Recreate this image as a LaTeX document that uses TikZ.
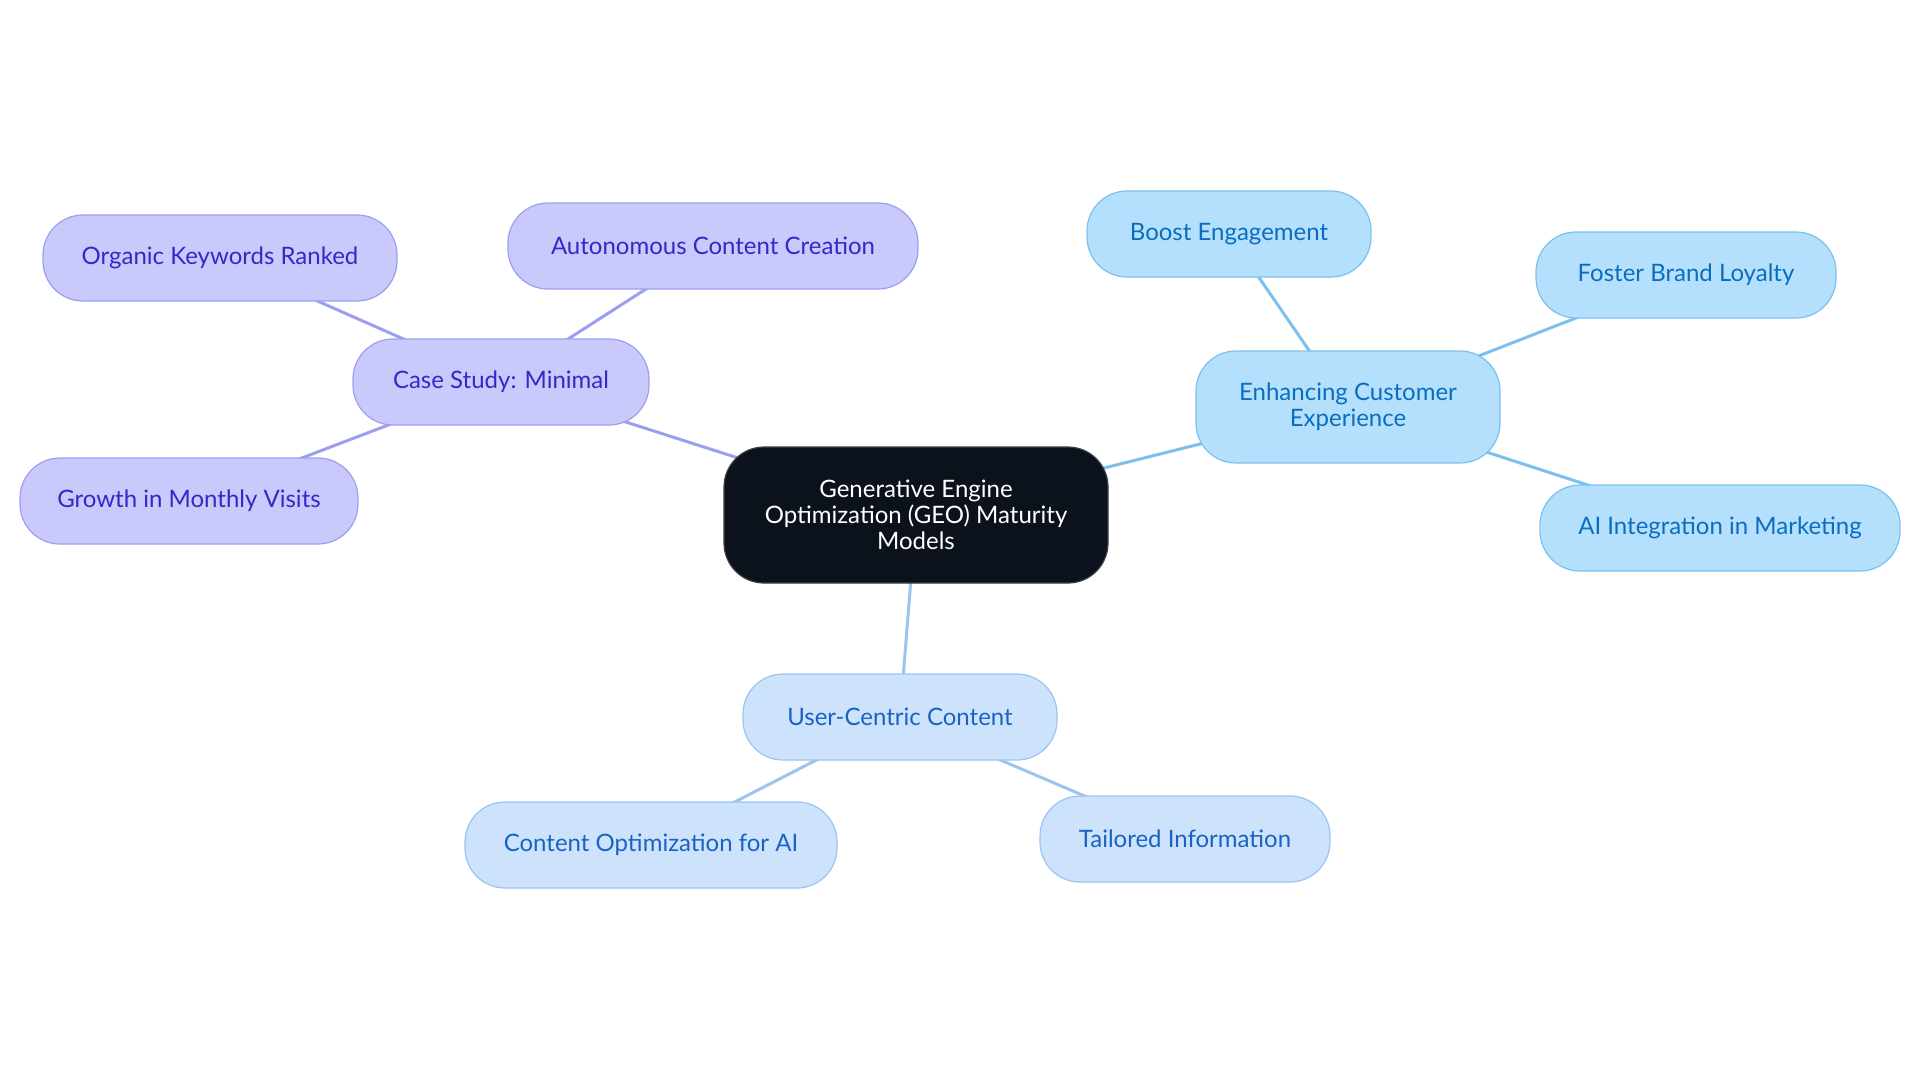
\documentclass[tikz,border=0pt]{standalone}
\usepackage{fontspec}
\setmainfont{Lato}
\usetikzlibrary{backgrounds}
\definecolor{rootfill}{HTML}{0C121B}
\definecolor{rootline}{HTML}{3A4048}
\definecolor{purpfill}{HTML}{C9CAFB}
\definecolor{purpline}{HTML}{9C9FEF}
\definecolor{purptext}{HTML}{3328C8}
\definecolor{skyfill}{HTML}{B4E0FD}
\definecolor{skyline}{HTML}{7CC0EE}
\definecolor{skytext}{HTML}{0A6DBE}
\definecolor{palefill}{HTML}{CDE3FB}
\definecolor{paleline}{HTML}{9BC4EF}
\definecolor{paletext}{HTML}{1A62C4}
\begin{document}
\begin{tikzpicture}[x=0.5pt, y=-0.5pt,
    box/.style={draw, rectangle, rounded corners=20pt, minimum height=43pt,
                text centered, align=center, line width=0.6pt,
                font=\fontsize{12}{13}\selectfont},
    root/.style={box, fill=rootfill, draw=rootline, text=white,
                 minimum width=192pt, minimum height=68pt},
    purp/.style={box, fill=purpfill, draw=purpline, text=purptext},
    sky/.style={box, fill=skyfill, draw=skyline, text=skytext},
    pale/.style={box, fill=palefill, draw=paleline, text=paletext},
    link/.style={line width=1.5pt}]
    \useasboundingbox (0,0) rectangle (1920,1083);
    \node[root] (geo)  at (916, 515) {Generative Engine\\Optimization (GEO) Maturity\\Models};
    % case study branch
    \node[purp, minimum width=148pt] (case)   at (501, 382) {Case Study: Minimal};
    \node[purp, minimum width=177pt] (organic) at (220, 258) {Organic Keywords Ranked};
    \node[purp, minimum width=205pt] (auto)   at (713, 246) {Autonomous Content Creation};
    \node[purp, minimum width=169pt] (growth) at (189, 501) {Growth in Monthly Visits};
    % customer experience branch
    \node[sky, minimum width=152pt, minimum height=56pt] (cx) at (1348, 407) {Enhancing Customer\\Experience};
    \node[sky, minimum width=142pt] (boost)   at (1229, 234) {Boost Engagement};
    \node[sky, minimum width=150pt] (loyalty) at (1686, 275) {Foster Brand Loyalty};
    \node[sky, minimum width=180pt] (aimkt)   at (1720, 528) {AI Integration in Marketing};
    % user-centric branch
    \node[pale, minimum width=157pt] (user)     at (900, 717) {User-Centric Content};
    \node[pale, minimum width=186pt] (optim)    at (651, 845) {Content Optimization for AI};
    \node[pale, minimum width=145pt] (tailored) at (1185, 839) {Tailored Information};
    \begin{scope}[on background layer]
        \foreach \a/\b in {geo/case, case/organic, case/auto, case/growth}
            \draw[link, purpline] (\a.center) -- (\b.center);
        \foreach \a/\b in {geo/cx, cx/boost, cx/loyalty, cx/aimkt}
            \draw[link, skyline] (\a.center) -- (\b.center);
        \foreach \a/\b in {geo/user, user/optim, user/tailored}
            \draw[link, paleline] (\a.center) -- (\b.center);
    \end{scope}
\end{tikzpicture}
\end{document}
